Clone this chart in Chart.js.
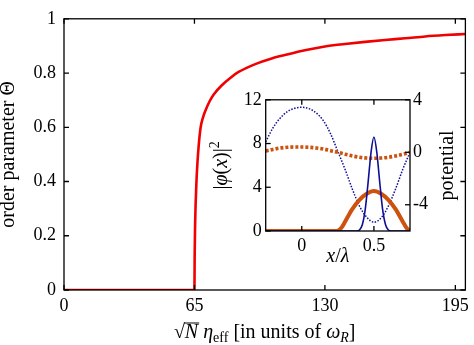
<!DOCTYPE html>
<html>
<head>
<meta charset="utf-8">
<script src="https://cdn.jsdelivr.net/npm/chart.js@4.4.0/dist/chart.umd.min.js"></script>
<style>
  body { margin: 0; background: #fff; }
  #wrap { position: relative; width: 474px; height: 345px; }
  #main { position: absolute; left: 0; top: 0; }
  #inset { position: absolute; left: 200px; top: 85px; }
</style>
</head>
<body>
<div id="wrap">
  <canvas id="main" width="474" height="345"></canvas>
  <canvas id="inset" width="262" height="190"></canvas>
</div>
<script>
// main panel: order parameter vs sqrt(N) eta_eff
const thetaX = [0, 64.9, 65, 65.1, 65.3, 65.6, 66, 66.5, 67.2, 68.1, 69.2, 70.5, 72.5, 74.6, 78.8, 83, 87, 95.3, 103.5, 111.7, 120, 130, 140, 150, 160, 170, 180, 190, 200];
const thetaY = [0, 0, 0, 0.12, 0.23, 0.32, 0.4, 0.47, 0.54, 0.6, 0.635, 0.662, 0.695, 0.721, 0.756, 0.783, 0.804, 0.833, 0.854, 0.869, 0.884, 0.898, 0.907, 0.915, 0.922, 0.928, 0.935, 0.94, 0.944];
const mainXTicks = [0, 65, 130, 195];

// inset: densities (left axis) and potentials (right axis)
const insetX = [-0.25, -0.2, -0.15, -0.1, -0.05, 0, 0.05, 0.1, 0.15, 0.2, 0.25, 0.3, 0.35, 0.4, 0.45, 0.5, 0.55, 0.6, 0.65, 0.7, 0.75];
const potBlue = [0.8, 1.85, 2.6, 3.1, 3.35, 3.43, 3.33, 3.0, 2.4, 1.4, 0.05, -1.3, -2.8, -4.1, -4.95, -5.33, -5.0, -4.1, -2.8, -1.3, 0.0];
const potOrange = [0.1, 0.22, 0.32, 0.38, 0.4, 0.4, 0.38, 0.33, 0.25, 0.12, 0.0, -0.15, -0.28, -0.38, -0.44, -0.46, -0.44, -0.38, -0.28, -0.15, 0.0];
const densBlueX = [-0.25, 0.38, 0.4, 0.42, 0.44, 0.46, 0.48, 0.5, 0.52, 0.54, 0.56, 0.58, 0.6, 0.62, 0.75];
const densBlue = [0, 0, 0.1, 0.6, 2.0, 4.5, 7.2, 8.6, 7.2, 4.5, 2.0, 0.6, 0.1, 0, 0];
const densOrangeX = [-0.25, 0.24, 0.275, 0.3, 0.35, 0.4, 0.45, 0.5, 0.55, 0.6, 0.65, 0.7, 0.725, 0.75];
const densOrange = [0, 0, 0.3, 0.85, 2.0, 2.85, 3.4, 3.65, 3.4, 2.85, 2.0, 0.85, 0.3, 0];
const insetXTicks = [0, 0.5];
const potTicks = [-4, 0, 4];

const FONT = '"Liberation Serif", "DejaVu Serif", serif';
const RED = 'rgb(240,0,0)';
const NAVY = 'rgb(15,15,150)';
const ORANGE = 'rgb(204,82,14)';

function pts(xs, ys) {
    return xs.map((x, i) => ({ x: x, y: ys[i] }));
}

// draw a line of text made of pieces with italics / sub / superscripts
function drawRich(ctx, parts, x, y, rot) {
    const size = 20;
    const fontOf = p => {
        const small = p.sub || p.sup;
        return (p.i ? 'italic ' : '') + (small ? 14 : size) + 'px ' + FONT;
    };
    let total = 0;
    parts.forEach(p => { ctx.font = fontOf(p); p.w = ctx.measureText(p.t).width; total += p.w; });
    ctx.save();
    ctx.translate(x, y);
    if (rot) ctx.rotate(rot);
    ctx.fillStyle = '#000';
    ctx.strokeStyle = '#000';
    ctx.textBaseline = 'alphabetic';
    ctx.textAlign = 'left';
    let cx = -total / 2;
    const base = 6;
    parts.forEach(p => {
        ctx.font = fontOf(p);
        let dy = base;
        if (p.sub) dy += 4;
        if (p.sup) dy -= 8;
        ctx.fillText(p.t, cx, dy);
        if (p.over) {
            ctx.lineWidth = 1;
            ctx.beginPath();
            ctx.moveTo(cx - 1, dy - 15);
            ctx.lineTo(cx + p.w + 1, dy - 15);
            ctx.stroke();
        }
        cx += p.w;
    });
    ctx.restore();
}

const frameTicks = {
    id: 'frameTicks',
    afterDatasetsDraw(chart, args, opts) {
        const ctx = chart.ctx;
        const a = chart.chartArea;
        const L = 5;
        ctx.save();
        ctx.strokeStyle = '#000';
        ctx.lineWidth = 1.3;
        ctx.strokeRect(a.left, a.top, a.right - a.left, a.bottom - a.top);
        Object.values(chart.scales).forEach(s => {
            s.ticks.forEach(t => {
                const p = s.getPixelForValue(t.value);
                ctx.beginPath();
                if (s.isHorizontal()) {
                    ctx.moveTo(p, a.bottom); ctx.lineTo(p, a.bottom - L);
                    if (opts.mirrorX) { ctx.moveTo(p, a.top); ctx.lineTo(p, a.top + L); }
                } else if (s.position === 'left') {
                    ctx.moveTo(a.left, p); ctx.lineTo(a.left + L, p);
                    if (opts.mirrorY) { ctx.moveTo(a.right, p); ctx.lineTo(a.right - L, p); }
                } else {
                    ctx.moveTo(a.right, p); ctx.lineTo(a.right - L, p);
                }
                ctx.stroke();
            });
        });
        ctx.restore();
        (opts.titles || []).forEach(tt => {
            const pos = tt.at(a, chart);
            drawRich(ctx, tt.parts, pos[0], pos[1], tt.rot);
        });
    }
};

const tickFont = { family: FONT, size: 18 };

// main chart
new Chart(document.getElementById('main'), {
    type: 'scatter',
    data: {
        datasets: [{
            data: pts(thetaX, thetaY),
            showLine: true,
            borderColor: RED,
            borderWidth: 2.6,
            pointRadius: 0,
            cubicInterpolationMode: 'monotone'
        }]
    },
    options: {
        responsive: false,
        animation: false,
        layout: { padding: { left: 0, top: 8, right: 6, bottom: 0 } },
        plugins: {
            legend: { display: false },
            tooltip: { enabled: false },
            frameTicks: {
                mirrorX: true,
                mirrorY: true,
                titles: [
                    {
                        parts: [{ t: '\u221A' }, { t: 'N', i: true, over: true }, { t: ' ' }, { t: '\u03B7', i: true },
                                { t: 'eff', sub: true }, { t: ' [in units of ' }, { t: '\u03C9', i: true },
                                { t: 'R', i: true, sub: true }, { t: ']' }],
                        at: (a) => [(a.left + a.right) / 2, 332]
                    },
                    {
                        parts: [{ t: 'order parameter \u0398' }],
                        rot: -Math.PI / 2,
                        at: (a) => [8, (a.top + a.bottom) / 2]
                    }
                ]
            }
        },
        scales: {
            x: {
                type: 'linear',
                min: 0,
                max: 200,
                afterBuildTicks: s => { s.ticks = mainXTicks.map(v => ({ value: v })); },
                afterFit: s => { s.height = 55; },
                grid: { display: false, drawTicks: false },
                border: { display: false },
                ticks: { font: tickFont, color: '#000', padding: 5, maxRotation: 0 }
            },
            y: {
                min: 0,
                max: 1,
                afterFit: s => { s.width = 64; },
                grid: { display: false, drawTicks: false },
                border: { display: false },
                ticks: {
                    stepSize: 0.2,
                    font: tickFont,
                    color: '#000',
                    padding: 8,
                    callback: v => (v === 0 || v === 1) ? String(v) : v.toFixed(1)
                }
            }
        }
    },
    plugins: [frameTicks]
});

// inset chart
new Chart(document.getElementById('inset'), {
    type: 'scatter',
    data: {
        datasets: [
            {
                data: pts(densBlueX, densBlue), yAxisID: 'y',
                showLine: true, borderColor: NAVY, borderWidth: 1.6, pointRadius: 0,
                cubicInterpolationMode: 'monotone'
            },
            {
                data: pts(densOrangeX, densOrange), yAxisID: 'y',
                showLine: true, borderColor: ORANGE, borderWidth: 4, pointRadius: 0,
                cubicInterpolationMode: 'monotone'
            },
            {
                data: pts(insetX, potOrange), yAxisID: 'y2',
                showLine: true, borderColor: ORANGE, borderWidth: 3.6, borderDash: [3, 2],
                pointRadius: 0, cubicInterpolationMode: 'monotone'
            },
            {
                data: pts(insetX, potBlue), yAxisID: 'y2',
                showLine: true, borderColor: NAVY, borderWidth: 1.5, borderDash: [1.5, 1.5],
                pointRadius: 0, cubicInterpolationMode: 'monotone'
            }
        ]
    },
    options: {
        responsive: false,
        animation: false,
        layout: { padding: { left: 0, top: 12, right: 0, bottom: 0 } },
        plugins: {
            legend: { display: false },
            tooltip: { enabled: false },
            frameTicks: {
                mirrorX: true,
                mirrorY: false,
                titles: [
                    {
                        parts: [{ t: 'x', i: true }, { t: '/' }, { t: '\u03BB', i: true }],
                        at: (a) => [(a.left + a.right) / 2, 171]
                    },
                    {
                        parts: [{ t: '|' }, { t: '\u03C6', i: true }, { t: '(' }, { t: 'x', i: true }, { t: ')|' }, { t: '2', sup: true }],
                        rot: -Math.PI / 2,
                        at: (a) => [21, (a.top + a.bottom) / 2]
                    },
                    {
                        parts: [{ t: 'potential' }],
                        rot: -Math.PI / 2,
                        at: (a) => [247, (a.top + a.bottom) / 2]
                    }
                ]
            }
        },
        scales: {
            x: {
                type: 'linear',
                min: -0.25,
                max: 0.75,
                afterBuildTicks: s => { s.ticks = insetXTicks.map(v => ({ value: v })); },
                afterFit: s => { s.height = 44; },
                grid: { display: false, drawTicks: false },
                border: { display: false },
                ticks: { font: tickFont, color: '#000', padding: 4, maxRotation: 0 }
            },
            y: {
                position: 'left',
                min: 0,
                max: 12,
                afterFit: s => { s.width = 65.7; },
                grid: { display: false, drawTicks: false },
                border: { display: false },
                ticks: { stepSize: 4, font: tickFont, color: '#000', padding: 4 }
            },
            y2: {
                position: 'right',
                min: -6,
                max: 4,
                afterBuildTicks: s => { s.ticks = potTicks.map(v => ({ value: v })); },
                afterFit: s => { s.width = 52; },
                grid: { display: false, drawTicks: false },
                border: { display: false },
                ticks: { font: tickFont, color: '#000', padding: 3 }
            }
        }
    },
    plugins: [frameTicks]
});
</script>
</body>
</html>
